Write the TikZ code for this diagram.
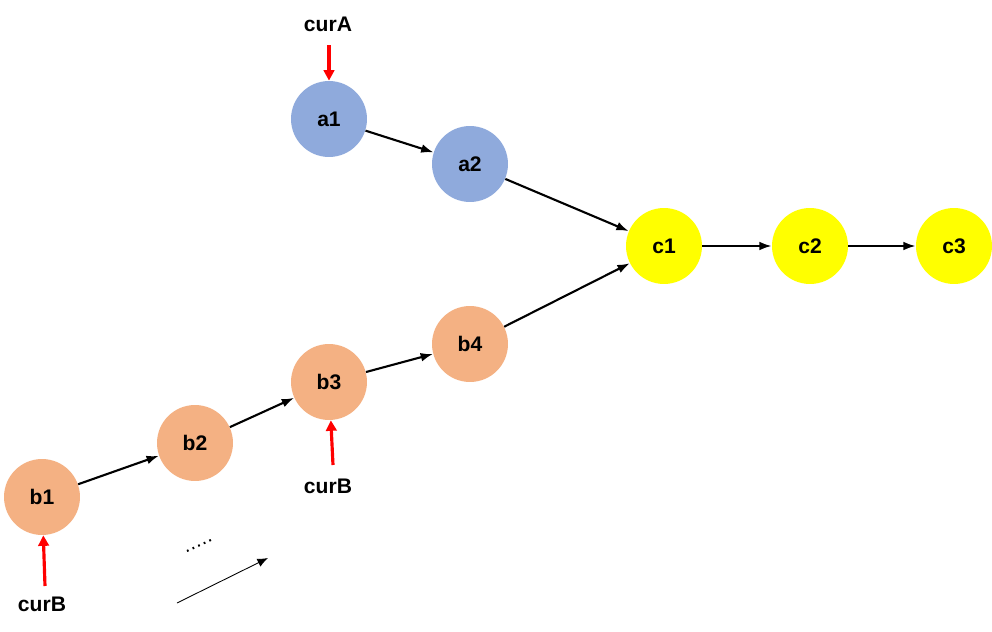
\documentclass[tikz,border=0pt]{standalone}
\usepackage{fontspec}
\setmainfont{Liberation Sans}
\usetikzlibrary{arrows.meta}
\definecolor{nblue}{RGB}{143,170,220}
\definecolor{norange}{RGB}{244,177,131}
\definecolor{nyellow}{RGB}{255,255,0}
\begin{document}
\begin{tikzpicture}[x=0.02cm,y=-0.02cm,
  nd/.style={circle,minimum size=1.52cm,inner sep=0pt,font=\bfseries\large},
  ed/.style={-{Latex[length=7pt,width=5pt]},line width=1.2pt},
  ptr/.style={-{Triangle[length=6pt,width=6pt]},red,line width=1.8pt},
  lbl/.style={font=\bfseries\large}]
\useasboundingbox (0,0) rectangle (992,632);
\node[nd,fill=nblue] (a1) at (329,119) {a1};
\node[nd,fill=nblue] (a2) at (470,164) {a2};
\node[nd,fill=nyellow] (c1) at (664,246) {c1};
\node[nd,fill=nyellow] (c2) at (810,246) {c2};
\node[nd,fill=nyellow] (c3) at (954,246) {c3};
\node[nd,fill=norange] (b4) at (470,344) {b4};
\node[nd,fill=norange] (b3) at (329,382) {b3};
\node[nd,fill=norange] (b2) at (195,443) {b2};
\node[nd,fill=norange] (b1) at (42,497) {b1};
\draw[ed] (a1) -- (a2);
\draw[ed] (a2) -- (c1);
\draw[ed] (c1) -- (c2);
\draw[ed] (c2) -- (c3);
\draw[ed] (b1) -- (b2);
\draw[ed] (b2) -- (b3);
\draw[ed] (b3) -- (b4);
\draw[ed] (b4) -- (c1);
\node[lbl] (ca) at (328,24) {curA};
\coordinate (ca0) at (329,45);
\draw[ptr] (ca0) -- (a1);
\node[lbl] (cb1) at (328,486) {curB};
\coordinate (cb1s) at (333,465);
\draw[ptr] (cb1s) -- (b3);
\node[lbl] (cb2) at (42,604) {curB};
\coordinate (cb2s) at (45,586);
\draw[ptr] (cb2s) -- (b1);
\coordinate (d0) at (187,551);
\coordinate (d1) at (213,539);
\draw[line width=1.2pt,dash pattern=on 1pt off 2.5pt] (d0) -- (d1);
\coordinate (t0) at (177,603);
\coordinate (t1) at (268,558);
\draw[-{Latex[length=6pt,width=5pt]},line width=0.5pt] (t0) -- (t1);
\end{tikzpicture}
\end{document}
